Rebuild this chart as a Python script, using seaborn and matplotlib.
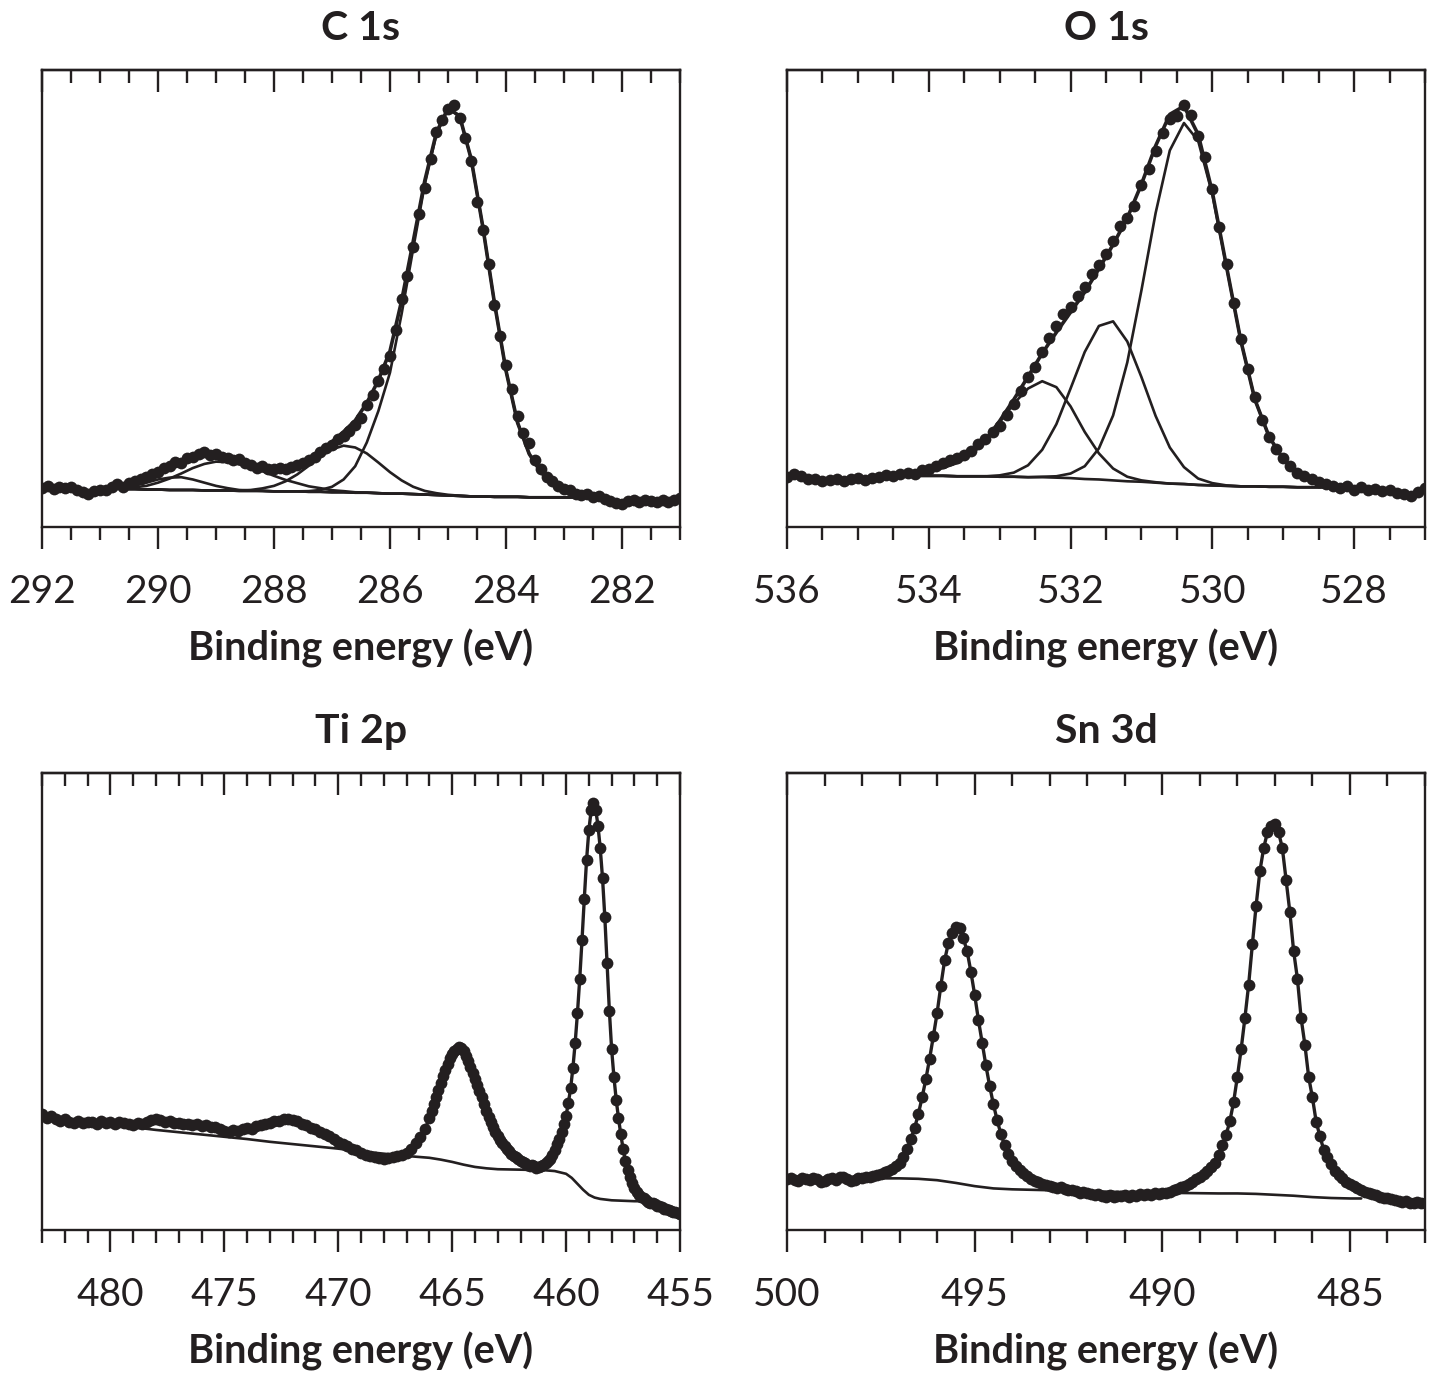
import numpy as np
import matplotlib
matplotlib.use("Agg")
import matplotlib.pyplot as plt
from matplotlib.ticker import MultipleLocator
import seaborn as sns

sns.set_style("white")
plt.rcParams["font.family"] = ["Lato", "DejaVu Sans"]

INK = "#231f20"

# ---- C 1s : measured points, 292.0 -> 281.0 eV every 0.1 eV ----
c1s_counts = [8.6, 8.9, 8.4, 8.7, 8.5, 8.8, 8.2, 7.6, 7.3, 7.8, 8.1,
              8.0, 8.7, 9.3, 8.8, 9.6, 10.0, 10.4, 10.9, 11.6, 12.0,
              12.9, 13.4, 14.3, 14.1, 15.0, 15.4, 15.9, 16.4, 15.8, 16.0,
              15.4, 15.1, 14.6, 14.8, 14.0, 13.6, 12.9, 13.3, 12.8, 12.6,
              12.9, 12.7, 13.1, 13.5, 14.1, 14.6, 15.3, 16.4, 17.2, 18.0,
              19.2, 19.9, 21.0, 22.3, 23.9, 26.6, 28.8, 31.9, 34.6, 37.4,
              43.2, 49.8, 55.0, 61.2, 68.4, 74.1, 80.6, 86.4, 89.0, 91.5,
              92.3, 89.4, 85.1, 80.0, 71.2, 65.0, 57.6, 48.6, 41.8, 35.5,
              30.2, 24.3, 20.6, 18.3, 14.6, 12.7, 10.9, 10.1, 9.0, 8.3,
              8.0, 7.3, 6.9, 7.2, 6.5, 6.8, 6.2, 5.6, 5.3, 5.1,
              5.6, 5.9, 5.4, 6.0, 5.7, 5.5, 5.9, 5.4, 5.8, 6.3]
# fit, 290.6 -> 282.8 eV every 0.2 eV
c1s_base = [8.3, 8.3, 8.2, 8.2, 8.1, 8.1, 8.1, 8.0, 8.0, 8.0,
            7.9, 7.9, 7.9, 7.8, 7.8, 7.8, 7.7, 7.7, 7.6, 7.6,
            7.5, 7.5, 7.4, 7.3, 7.3, 7.2, 7.1, 7.0, 6.9, 6.8,
            6.7, 6.7, 6.6, 6.6, 6.6, 6.5, 6.5, 6.5, 6.5, 6.5]
c1s_cc = [0, 0, 0, 0, 0, 0, 0, 0, 0, 0,
          0, 0, 0, 0, 0, 0, 0.15, 0.4, 1.2, 2.8,
          5.8, 11.0, 18.0, 26.5, 39.3, 53.7, 67.9, 78.9, 84.6, 83.1,
          73.8, 59.0, 42.5, 27.6, 16.2, 9.5, 5.5, 3.0, 1.5, 0.6]
c1s_co = [0, 0, 0, 0, 0, 0, 0, 0, 0, 0,
          0.1, 0.2, 0.55, 1.2, 2.2, 3.7, 5.7, 7.7, 9.4, 10.2,
          9.9, 8.6, 6.7, 4.7, 2.9, 1.6, 0.8, 0.4, 0.15, 0.05,
          0, 0, 0, 0, 0, 0, 0, 0, 0, 0]
c1s_coo = [0.2, 0.4, 0.8, 1.5, 2.5, 3.6, 4.8, 5.8, 6.3, 6.2,
           5.8, 5.1, 4.3, 3.4, 2.5, 1.8, 1.2, 0.8, 0.45, 0.25,
           0.1, 0.05, 0, 0, 0, 0, 0, 0, 0, 0,
           0, 0, 0, 0, 0, 0, 0, 0, 0, 0]
c1s_co3 = [0.4, 0.9, 1.5, 2.2, 2.7, 2.8, 2.3, 1.7, 1.0, 0.5,
           0.2, 0.1, 0, 0, 0, 0, 0, 0, 0, 0,
           0, 0, 0, 0, 0, 0, 0, 0, 0, 0,
           0, 0, 0, 0, 0, 0, 0, 0, 0, 0]

# ---- O 1s : measured points, 536.0 -> 527.0 eV every 0.1 eV ----
o1s_counts = [10.9, 11.5, 11.2, 10.6, 10.4, 10.1, 10.3, 10.5, 10.0, 10.4, 10.8,
              10.2, 10.7, 11.0, 11.3, 11.1, 11.6, 11.9, 11.7, 12.5, 12.8,
              13.4, 13.9, 14.6, 15.0, 15.7, 16.6, 18.1, 19.2, 20.8, 22.2,
              24.5, 26.9, 29.8, 32.9, 35.0, 38.2, 41.4, 44.0, 46.6, 48.2,
              50.6, 52.6, 55.3, 57.4, 59.8, 62.6, 65.8, 67.6, 70.3, 74.8,
              78.3, 82.2, 86.2, 89.3, 90.0, 92.4, 90.1, 85.6, 80.9, 74.0,
              65.6, 57.5, 49.0, 41.2, 34.6, 28.4, 23.5, 19.6, 17.1, 15.2,
              13.3, 11.9, 11.1, 10.4, 9.8, 9.3, 8.9, 8.6, 9.0, 8.2,
              8.7, 8.0, 8.4, 7.8, 8.1, 7.5, 7.2, 6.8, 7.6, 8.5]
# fit, 534.4 -> 528.4 eV every 0.2 eV
o1s_base = [11.2, 11.2, 11.2, 11.2, 11.1, 11.1, 11.1, 11.0, 11.0, 10.9,
            10.9, 10.8, 10.7, 10.5, 10.4, 10.2, 10.0, 9.9, 9.7, 9.5,
            9.4, 9.2, 9.1, 9.0, 8.9, 8.9, 8.8, 8.8, 8.7, 8.7, 8.7]
o1s_lattice = [0, 0, 0, 0, 0, 0, 0, 0, 0, 0,
               0.1, 0.3, 1.0, 2.8, 6.8, 14.2, 26.0, 41.9, 59.0, 72.9,
               79.0, 75.3, 63.7, 47.9, 32.0, 19.0, 11.0, 6.0, 3.2, 1.8, 1.0]
o1s_oh = [0, 0, 0, 0, 0, 0, 0, 0.3, 0.9, 2.6,
          6.0, 11.7, 19.6, 27.8, 33.6, 34.8, 30.6, 22.9, 14.6, 7.9,
          3.7, 1.4, 0.5, 0.1, 0, 0, 0, 0, 0, 0, 0]
o1s_water = [0.3, 0.6, 1.1, 1.8, 3.0, 4.9, 7.9, 11.9, 16.0, 19.4,
             21.0, 19.8, 15.7, 10.3, 5.7, 2.6, 1.0, 0.3, 0.1, 0,
             0, 0, 0, 0, 0, 0, 0, 0, 0, 0, 0]

# ---- Ti 2p : measured points ----
# 483.0 -> 466.2 eV every 0.2 eV
ti2p_counts_high = [25.4, 24.6, 24.9, 24.2, 23.9, 24.3, 23.7, 23.5, 23.9, 23.4,
                    23.7, 23.6, 23.3, 23.8, 23.5, 23.6, 23.2, 23.7, 23.4, 23.3,
                    22.9, 23.5, 23.1, 23.6, 24.0, 24.3, 24.0, 23.6, 23.8, 23.4,
                    23.5, 23.1, 23.3, 22.9, 23.2, 22.7, 22.9, 22.5, 22.6, 22.0,
                    21.6, 21.5, 21.8, 21.7, 22.1, 22.3, 22.2, 22.7, 22.9, 23.2,
                    23.5, 23.8, 23.9, 24.3, 24.2, 24.1, 23.8, 23.3, 23.0, 22.4,
                    22.0, 21.4, 21.0, 20.5, 20.0, 19.3, 18.9, 18.3, 17.8, 17.4,
                    16.9, 16.5, 16.3, 16.0, 15.8, 15.6, 15.7, 15.9, 16.1, 16.4,
                    16.9, 17.8, 19.0, 20.4, 22.0]
# 466.0 -> 455.0 eV every 0.1 eV
ti2p_counts_low = [24.4, 26.0, 27.6, 29.0, 30.6, 32.1, 33.7, 35.0, 36.3, 37.6,
                   38.6, 39.2, 39.7, 40.0, 39.8, 39.1, 38.1, 36.9, 35.6, 34.3,
                   33.0, 31.8, 30.4, 29.0, 27.6, 26.1, 24.8, 23.6, 22.5, 21.4,
                   20.5, 19.7, 19.0, 18.3, 17.7, 17.2, 16.7, 16.3, 15.9, 15.5,
                   15.1, 14.9, 14.6, 14.3, 14.1, 14.2, 13.9, 13.6, 13.8, 14.0,
                   14.2, 14.6, 15.0, 15.6, 16.4, 17.5, 18.8, 20.0, 21.5, 23.2,
                   25.0, 27.8, 31.0, 35.5, 41.0, 47.5, 55.0, 63.5, 72.5, 81.0,
                   87.5, 91.8, 93.4, 92.0, 88.5, 83.5, 77.0, 68.5, 58.5, 48.0,
                   39.5, 33.5, 28.5, 24.5, 21.0, 17.8, 15.2, 13.1, 11.5, 10.2,
                   9.2, 8.3, 7.7, 7.2, 6.9, 6.5, 6.2, 6.0, 5.8, 5.6,
                   5.3, 5.2, 5.0, 4.7, 4.5, 4.4, 4.2, 4.0, 3.9, 3.7, 3.6]
ti2p_base_energy = [481, 480, 479, 478, 477, 476, 475, 474, 473, 472, 471, 470,
                    469, 468, 467, 466.5, 466, 465.5, 465, 464.5, 464, 463.5,
                    463, 462, 461, 460.5, 460, 459.75, 459.5, 459.25, 459,
                    458.75, 458.5, 458, 457.5, 457, 456.6]
ti2p_base = [23.6, 23.0, 22.5, 21.9, 21.4, 20.9, 20.4, 19.9, 19.3, 18.8, 18.3, 17.8,
             17.2, 16.7, 16.2, 16.0, 15.8, 15.4, 14.9, 14.3, 13.8, 13.5,
             13.3, 13.2, 13.1, 12.9, 12.3, 11.4, 10.1, 8.8, 7.7,
             7.1, 6.8, 6.5, 6.4, 6.3, 6.3]

# ---- Sn 3d : measured points, 500.0 -> 483.0 eV every 0.1 eV ----
sn3d_counts = [11.2, 11.4, 11.0, 10.8, 11.4, 11.1, 10.9, 11.3, 11.1, 10.6,
               10.7, 11.2, 11.3, 10.9, 11.5, 11.6, 11.2, 10.8, 11.0, 11.4,
               11.3, 11.5, 11.6,
               11.8, 12.0, 12.3, 12.6, 13.0, 13.4, 13.9, 14.6,
               16.0, 17.8, 19.9, 22.3, 25.4, 29.0, 33.0, 37.5, 42.4, 47.5,
               53.5, 59.0, 62.8, 65.0, 66.4, 66.0, 63.8, 61.0, 56.5, 51.5,
               46.0, 41.0, 36.0, 31.5, 27.5, 24.0, 21.0, 18.5, 16.6, 15.2,
               14.1, 13.2, 12.5, 11.8, 11.2, 10.8, 10.4, 10.1, 9.8, 9.6,
               9.5, 9.2, 9.3, 8.9, 8.7, 8.8, 8.5, 8.2, 8.4, 8.0,
               7.9, 7.7, 7.9, 7.5, 7.3, 7.6, 7.2, 7.5, 7.4, 7.6,
               7.3, 7.7, 7.5, 7.8, 7.6, 7.9, 7.7, 8.0, 7.8, 8.1,
               8.2, 8.4, 8.7, 8.9, 9.3, 9.6, 10.1, 10.6, 11.1, 11.7,
               12.3, 13.0, 13.8, 14.6, 16.4, 18.6, 20.8, 23.8, 28.0, 33.5,
               39.5, 46.3, 53.6, 62.5, 71.0, 78.5, 83.5, 87.0, 88.5, 88.8,
               87.0, 83.5, 76.5, 69.5, 61.0, 55.0, 46.3, 40.5, 33.5, 29.0,
               23.7, 20.5, 17.6, 15.9, 14.5, 13.0, 12.0, 11.3, 10.5, 10.0,
               9.6, 9.1, 8.7, 8.3, 8.0, 7.8, 7.6, 7.3, 7.1, 6.9,
               6.7, 6.6, 6.4, 6.1, 6.3, 6.0, 5.9, 6.1, 5.8, 5.9]
sn3d_base_energy = [497.8, 497.0, 496.5, 496.0, 495.5, 495.0, 494.5, 494.0, 493.5,
                    492.5, 491.5, 490.5, 489.5, 488.5, 488.0, 487.5, 487.0,
                    486.5, 486.0, 485.5, 485.0, 484.7]
sn3d_base = [11.3, 11.3, 11.2, 10.9, 10.3, 9.6, 9.1, 8.9, 8.8,
             8.6, 8.4, 8.2, 8.1, 8.0, 8.0, 7.9, 7.7,
             7.5, 7.2, 7.0, 6.9, 6.9]

FS = 28


def line(ax, x, y, lw):
    sns.lineplot(x=x, y=y, ax=ax, color=INK, lw=lw, legend=False, zorder=3,
                 estimator=None)


def dots(ax, e, counts):
    sns.scatterplot(x=e, y=counts, ax=ax, s=72, color=INK, linewidth=0,
                    zorder=2, legend=False)


def style_axis(ax, title, xlim, major, minor):
    ax.set_xlim(*xlim)
    ax.set_ylim(0, 100)
    ax.set_yticks([])
    ax.set_ylabel("")
    for s in ax.spines.values():
        s.set_linewidth(1.7)
        s.set_color(INK)
    ax.xaxis.set_major_locator(MultipleLocator(major))
    ax.xaxis.set_minor_locator(MultipleLocator(minor))
    ax.tick_params(axis="x", which="both", bottom=True, top=False,
                   direction="out", width=1.7, color=INK,
                   labelsize=FS, labelcolor=INK, pad=18)
    ax.tick_params(axis="x", which="major", length=16)
    ax.tick_params(axis="x", which="minor", length=9)
    top = ax.secondary_xaxis("top")
    top.xaxis.set_major_locator(MultipleLocator(major))
    top.xaxis.set_minor_locator(MultipleLocator(minor))
    top.tick_params(axis="x", which="both", top=True, labeltop=False,
                    direction="in", width=1.7, color=INK)
    top.tick_params(axis="x", which="major", length=16)
    top.tick_params(axis="x", which="minor", length=9)
    top.spines["top"].set_linewidth(1.7)
    ax.set_xlabel("Binding energy (eV)", fontsize=28.5, fontweight="bold",
                  color=INK, va="center")
    ax.xaxis.set_label_coords(0.5, -121 / 457)
    ax.text(0.5, 1 + 42 / 457, title, transform=ax.transAxes, ha="center",
            va="center", fontsize=29.5, fontweight="bold", color=INK)


fig = plt.figure(figsize=(14.5, 13.76), dpi=100)
W, H = 638 / 1450, 457 / 1376
ax_c = fig.add_axes([42 / 1450, 1 - 527 / 1376, W, H])
ax_o = fig.add_axes([787 / 1450, 1 - 527 / 1376, W, H])
ax_t = fig.add_axes([42 / 1450, 1 - 1230 / 1376, W, H])
ax_s = fig.add_axes([787 / 1450, 1 - 1230 / 1376, W, H])

# C 1s
e = np.linspace(292.0, 281.0, len(c1s_counts))
fe = np.linspace(290.6, 282.8, len(c1s_base))
base = np.array(c1s_base)
comps = [np.array(c) for c in (c1s_cc, c1s_co, c1s_coo, c1s_co3)]
dots(ax_c, e, c1s_counts)
line(ax_c, fe, base + sum(comps), 2.6)
for c in comps:
    line(ax_c, fe, base + c, 1.9)
line(ax_c, fe, base, 1.9)
style_axis(ax_c, "C 1s", (292, 281), 2, 0.5)

# O 1s
e = np.linspace(536.0, 527.0, len(o1s_counts))
fe = np.linspace(534.4, 528.4, len(o1s_base))
base = np.array(o1s_base)
comps = [np.array(c) for c in (o1s_lattice, o1s_oh, o1s_water)]
dots(ax_o, e, o1s_counts)
line(ax_o, fe, base + sum(comps), 2.6)
for c in comps:
    line(ax_o, fe, base + c, 1.9)
line(ax_o, fe, base, 1.9)
style_axis(ax_o, "O 1s", (536, 527), 2, 0.5)

# Ti 2p
e = np.concatenate([np.linspace(483.0, 466.2, len(ti2p_counts_high)),
                    np.linspace(466.0, 455.0, len(ti2p_counts_low))])
ti2p_counts = ti2p_counts_high + ti2p_counts_low
dots(ax_t, e, ti2p_counts)
line(ax_t, e, ti2p_counts, 2.4)
line(ax_t, ti2p_base_energy, ti2p_base, 1.9)
style_axis(ax_t, "Ti 2p", (483, 455), 5, 1)

# Sn 3d
e = np.linspace(500.0, 483.0, len(sn3d_counts))
dots(ax_s, e, sn3d_counts)
line(ax_s, e, sn3d_counts, 2.4)
line(ax_s, sn3d_base_energy, sn3d_base, 1.9)
style_axis(ax_s, "Sn 3d", (500, 483), 5, 1)

fig.savefig("out.png", dpi=100)
